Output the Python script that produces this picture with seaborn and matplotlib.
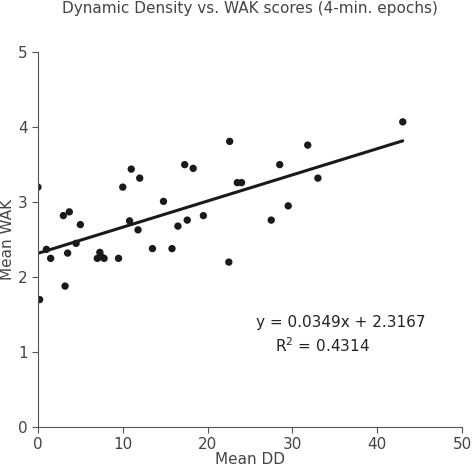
import matplotlib
matplotlib.use("Agg")
import matplotlib.pyplot as plt
import seaborn as sns
import numpy as np
import pandas as pd

mean_dd = [0, 0.2, 1, 1.5, 3, 3.2, 3.5, 3.7, 4.5, 5, 7, 7.3, 7.5, 7.8, 9.5, 10, 10.8, 11, 11.8, 12,
           13.5, 14.8, 15.8, 16.5, 17.3, 17.6, 18.3, 19.5, 22.5, 22.6, 23.5, 24, 27.5, 28.5, 29.5, 31.8, 33, 43]
mean_wak = [3.2, 1.7, 2.37, 2.25, 2.82, 1.88, 2.32, 2.87, 2.45, 2.7, 2.25, 2.33, 2.27, 2.25, 2.25, 3.2, 2.75, 3.44, 2.63, 3.32,
            2.38, 3.01, 2.38, 2.68, 3.5, 2.76, 3.45, 2.82, 2.2, 3.81, 3.26, 3.26, 2.76, 3.5, 2.95, 3.76, 3.32, 4.07]
slope, intercept = 0.0349, 2.3167

df = pd.DataFrame({"DD": mean_dd, "WAK": mean_wak})
sns.set_style("white")
fig = plt.figure(figsize=(4.74, 4.74), dpi=100)
ax = fig.add_axes([0.08, 0.099, 0.895, 0.791])
sns.scatterplot(data=df, x="DD", y="WAK", color="#1a1a1a", s=28, edgecolor="none", ax=ax)
lx = np.array([0, 43])
sns.lineplot(x=lx, y=slope * lx + intercept, color="#1a1a1a", lw=2.2, ax=ax)
ax.set_xlim(0, 50)
ax.set_ylim(0, 5)
ax.set_xticks(range(0, 51, 10))
ax.set_yticks(range(0, 6))
for s in ["top", "right"]:
    ax.spines[s].set_visible(False)
for s in ["left", "bottom"]:
    ax.spines[s].set_color("#555555")
ax.tick_params(axis="both", direction="out", length=4, color="#555555", labelsize=11, labelcolor="#444444",
               left=True, bottom=True)
ax.set_xlabel("Mean DD", fontsize=11, color="#444444", labelpad=0)
ax.set_ylabel("Mean WAK", fontsize=11, color="#444444", labelpad=2)
ax.set_title("Dynamic Density vs. WAK scores (4-min. epochs)", fontsize=11, color="#444444", pad=28)
ax.text(35.7, 1.4, "y = 0.0349x + 2.3167", fontsize=11, color="#222222", ha="center", va="center")
ax.text(33.5, 1.09, "R$^2$ = 0.4314", fontsize=11, color="#222222", ha="center", va="center")
fig.savefig("out.png", dpi=100)
